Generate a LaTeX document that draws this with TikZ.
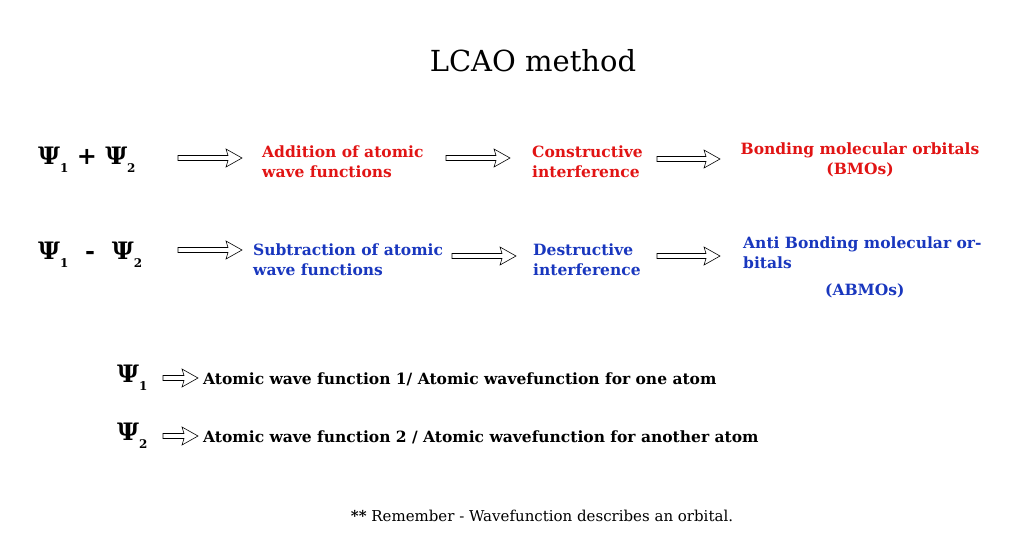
\documentclass[tikz,border=0pt]{standalone}
\usepackage{fontspec}
\setmainfont{DejaVu Serif}
\usetikzlibrary{calc}
\definecolor{cred}{RGB}{225,20,20}
\definecolor{cblue}{RGB}{25,55,190}
\begin{document}
\begin{tikzpicture}[x=1pt,y=-1pt,
  lbl/.style={font=\bfseries\fontsize{15.5}{20}\selectfont,align=left,anchor=west,inner sep=0},
  psi/.style={font=\bfseries\fontsize{24}{26}\selectfont,anchor=west,inner sep=0},
  harrow/.style={draw,line width=0.6pt,to path={let \p1=(\tikztostart),\p2=(\tikztotarget) in
     (\x1,\y1+2.5) -- (\x2-14,\y1+2.5) -- (\x2-16,\y1+9) -- (\x2,\y1) -- (\x2-16,\y1-9) -- (\x2-14,\y1-2.5) -- (\x1,\y1-2.5) -- cycle}}]
\useasboundingbox (0,0) rectangle (1024,550);
\newcommand\Psub[1]{Ψ\raisebox{-8pt}{\fontsize{12}{12}\selectfont #1}}
\node[font=\fontsize{29}{32}\selectfont] (title) at (533,61) {LCAO method};
% row 1
\node[psi] (p1) at (38,160) {\Psub{1}\ +\ \Psub{2}};
\coordinate (a1s) at (178,158); \coordinate (a1e) at (242,158);
\node[lbl,text=cred] (add) at (262,162) {Addition of atomic\\wave functions};
\coordinate (a2s) at (446,158); \coordinate (a2e) at (510,158);
\node[lbl,text=cred] (con) at (532,162) {Constructive\\interference};
\coordinate (a3s) at (657,159); \coordinate (a3e) at (720,159);
\node[lbl,text=cred,align=center,anchor=north] (bmo) at (860,143) {Bonding molecular orbitals\\(BMOs)};
\path (a1s) edge[harrow] (a1e) (a2s) edge[harrow] (a2e) (a3s) edge[harrow] (a3e);
% row 2
\node[psi] (p2) at (38,255) {\Psub{1}\ \ -\ \ \Psub{2}};
\coordinate (b1s) at (178,250); \coordinate (b1e) at (242,250);
\node[lbl,text=cblue] (sub) at (253,260) {Subtraction of atomic\\wave functions};
\coordinate (b2s) at (452,256); \coordinate (b2e) at (516,256);
\node[lbl,text=cblue] (des) at (533,260) {Destructive\\interference};
\coordinate (b3s) at (657,256); \coordinate (b3e) at (720,256);
\node[lbl,text=cblue,anchor=north west] (abm) at (743,237) {Anti Bonding molecular or-\\bitals};
\node[lbl,text=cblue] (abm2) at (825,291) {(ABMOs)};
\path (b1s) edge[harrow] (b1e) (b2s) edge[harrow] (b2e) (b3s) edge[harrow] (b3e);
% legend
\node[psi] (l1) at (117,378) {\Psub{1}};
\coordinate (c1s) at (163,378); \coordinate (c1e) at (198,378);
\node[lbl] (t1) at (203,379) {Atomic wave function 1/ Atomic wavefunction for one atom};
\node[psi] (l2) at (117,436) {\Psub{2}};
\coordinate (c2s) at (163,436); \coordinate (c2e) at (198,436);
\node[lbl] (t2) at (203,437) {Atomic wave function 2 / Atomic wavefunction for another atom};
\path (c1s) edge[harrow] (c1e) (c2s) edge[harrow] (c2e);
\node[font=\fontsize{15}{17}\selectfont] (note) at (542,516) {\textbf{**} Remember - Wavefunction describes an orbital.};
\end{tikzpicture}
\end{document}
